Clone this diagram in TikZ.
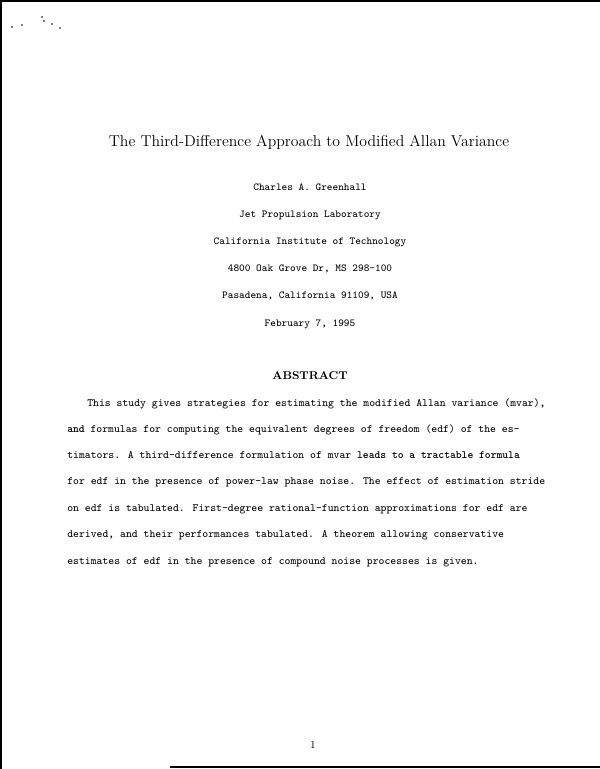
\documentclass[tikz,border=0pt]{standalone}
\usepackage{tikz}
\usetikzlibrary{positioning}
\begin{document}
\begin{tikzpicture}[x=0.75pt,y=-0.75pt,
  every node/.style={inner sep=0pt,anchor=base},
  author/.style={font=\fontsize{8}{9}\selectfont\ttfamily},
  body/.style={font=\fontsize{8.3}{9}\selectfont\ttfamily,anchor=base west}]
\useasboundingbox (0,0) rectangle (600,769);
% page edges of the scan
\draw[line width=2pt] (0,1) -- (600,1);
\draw[line width=2pt] (1,0) -- (1,769);
\draw[line width=1.5pt] (170,767) -- (600,767);
% specks
\foreach \px/\py in {12/27,22/25,42/17,44/21,52/24,60/28}
  \fill (\px,\py) circle (0.9);

\node (title) at (309,146) {\fontsize{11.8}{13}\selectfont The Third-Difference Approach to Modified Allan Variance};
\node[author] (name) at (310,190) {Charles A. Greenhall};
\node[author] (lab) at (310,217) {Jet Propulsion Laboratory};
\node[author] (inst) at (310,244) {California Institute of Technology};
\node[author] (street) at (310,271) {4800 Oak Grove Dr, MS 298-100};
\node[author] (city) at (310,298) {Pasadena, California 91109, USA};
\node[author] (date) at (310,326) {February 7, 1995};

\node (abstract) at (310,379) {\fontsize{8.5}{9}\selectfont\bfseries ABSTRACT};
\node[body] (l1) at (87,406) {\makebox[330pt][s]{This study gives strategies for estimating the modified Allan variance (mvar),}};
\node[body] (l2) at (67,432) {\makebox[344pt][s]{\textbf{and} formulas for computing the equivalent degrees of freedom (edf) of the es-}};
\node[body] (l3) at (67,458) {\makebox[344pt][s]{timators. A third-difference formulation of mvar \textbf{leads to a tractable formula}}};
\node[body] (l4) at (67,484) {\makebox[344pt][s]{for edf in the presence of power-law phase noise. The effect of estimation stride}};
\node[body] (l5) at (67,511) {\makebox[344pt][s]{on edf is tabulated. First-degree rational-function approximations for edf are}};
\node[body] (l6) at (67,537) {\makebox[344pt][s]{derived, and their performances tabulated. A theorem allowing conservative}};
\node[body] (l7) at (67,564) {estimates of edf in the presence of compound noise processes is given.};

\node (page) at (313,748) {\fontsize{8}{9}\selectfont 1};
\end{tikzpicture}
\end{document}
